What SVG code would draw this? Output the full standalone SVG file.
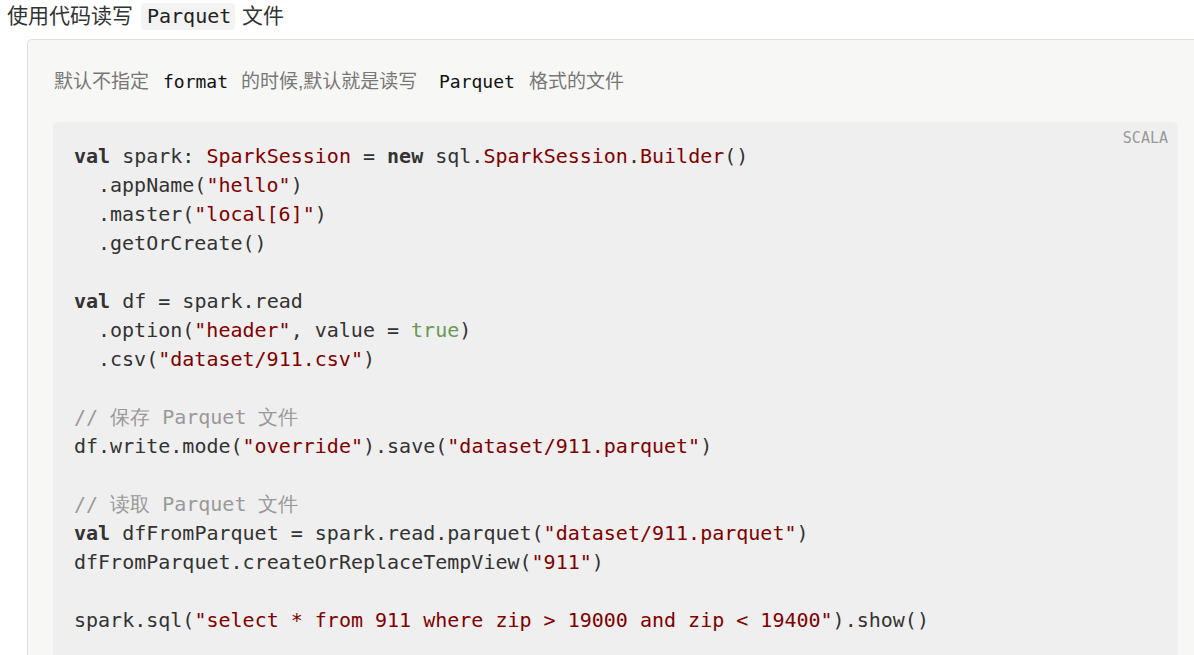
<svg xmlns="http://www.w3.org/2000/svg" width="1194" height="655" viewBox="0 0 1194 655">
<style>
.cn{font-family:"Liberation Sans","Noto Sans CJK SC",sans-serif}
.m{font-family:"DejaVu Sans Mono","Liberation Mono",monospace;font-size:20px;fill:#333}
.k{font-weight:bold;fill:#333}
.s{fill:#800000}
.g{fill:#6a9955}
.c{fill:#999}
</style>
<rect width="1194" height="655" fill="#fff"/>
<text x="7" y="23" class="cn" font-size="21" fill="#333">使用代码读写</text>
<rect x="141" y="3" width="94" height="27" rx="4" fill="#f3f3f3"/>
<text x="147" y="23" class="m" style="fill:#222">Parquet</text>
<text x="242" y="23" class="cn" font-size="21" fill="#333">文件</text>
<rect x="27.5" y="39.5" width="1180" height="630" rx="4" fill="#f7f7f5" stroke="#e0e0e0"/>
<text x="54" y="88" class="cn" font-size="19" fill="#777">默认不指定</text>
<text x="163" y="88" class="m" style="font-size:18px;fill:#111">format</text>
<text x="241" y="88" class="cn" font-size="19" fill="#777">的时候,默认就是读写</text>
<text x="439" y="88" class="m" style="font-size:18px;fill:#111">Parquet</text>
<text x="529" y="88" class="cn" font-size="19" fill="#777">格式的文件</text>
<rect x="53" y="122" width="1125" height="560" rx="6" fill="#efefef"/>
<text x="1168" y="143" text-anchor="end" font-family="DejaVu Sans Mono,monospace" font-size="15" fill="#999">SCALA</text>
<g class="m">
<text x="74" y="163"><tspan class="k">val</tspan> spark: <tspan class="s">SparkSession</tspan> = <tspan class="k">new</tspan> sql.<tspan class="s">SparkSession</tspan>.<tspan class="s">Builder</tspan>()</text>
<text x="98" y="192">.appName(<tspan class="s">"hello"</tspan>)</text>
<text x="98" y="221">.master(<tspan class="s">"local[6]"</tspan>)</text>
<text x="98" y="250">.getOrCreate()</text>
<text x="74" y="308"><tspan class="k">val</tspan> df = spark.read</text>
<text x="98" y="337">.option(<tspan class="s">"header"</tspan>, value = <tspan class="g">true</tspan>)</text>
<text x="98" y="366">.csv(<tspan class="s">"dataset/911.csv"</tspan>)</text>
<text x="74" y="424" class="c">// 保存 Parquet 文件</text>
<text x="74" y="453">df.write.mode(<tspan class="s">"override"</tspan>).save(<tspan class="s">"dataset/911.parquet"</tspan>)</text>
<text x="74" y="511" class="c">// 读取 Parquet 文件</text>
<text x="74" y="540"><tspan class="k">val</tspan> dfFromParquet = spark.read.parquet(<tspan class="s">"dataset/911.parquet"</tspan>)</text>
<text x="74" y="569">dfFromParquet.createOrReplaceTempView(<tspan class="s">"911"</tspan>)</text>
<text x="74" y="627">spark.sql(<tspan class="s">"select * from 911 where zip &gt; 19000 and zip &lt; 19400"</tspan>).show()</text>
</g>
</svg>
